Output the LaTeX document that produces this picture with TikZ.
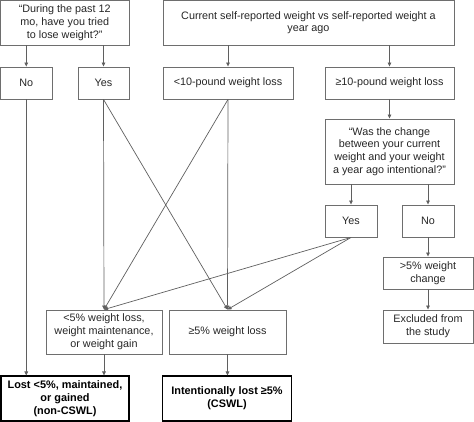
\documentclass[tikz,border=0pt]{standalone}
\usepackage{fontspec}
\setmainfont{Liberation Sans}
\usetikzlibrary{arrows.meta}
\definecolor{boxgray}{RGB}{110,110,110}
\definecolor{linegray}{RGB}{95,95,95}
\tikzset{
  box/.style={draw=boxgray, line width=0.9pt, align=center, inner sep=1pt,
    font=\fontsize{10.8}{12.8}\selectfont, text=black!85},
  boldbox/.style={draw=black, line width=1.6pt, align=center, inner sep=1pt,
    font=\fontsize{10.9}{12.7}\selectfont\bfseries, text=black},
  arr/.style={draw=linegray, line width=0.7pt, -{Triangle[length=4pt,width=3.6pt]}},
}
\begin{document}
\begin{tikzpicture}[x=1pt,y=-1pt]
\useasboundingbox (0,0) rectangle (474,422);
\node[box, minimum width=128.5pt, minimum height=44.5pt] (q1) at (64.75,22.75) {“During the past 12\\mo, have you tried\\to lose weight?”};
\node[box, minimum width=51.5pt, minimum height=32pt] (no) at (26.25,83) {No};
\node[box, minimum width=51pt, minimum height=32pt] (yes) at (103.5,83) {Yes};
\node[box, minimum width=291pt, minimum height=44.5pt] (top) at (308.5,22.75) {Current self-reported weight vs self-reported weight a\\year ago};
\node[box, minimum width=130pt, minimum height=32pt] (lt10) at (228,83) {<10-pound weight loss};
\node[box, minimum width=129pt, minimum height=32pt] (ge10) at (389.5,83) {≥10-pound weight loss};
\node[box, minimum width=129pt, minimum height=65pt] (q2) at (389.5,151.5) {“Was the change\\between your current\\weight and your weight\\a year ago intentional?”};
\node[box, minimum width=52pt, minimum height=32pt] (yes2) at (351,221) {Yes};
\node[box, minimum width=52pt, minimum height=32pt] (no2) at (428,221) {No};
\node[box, minimum width=90pt, minimum height=32pt] (gt5) at (428,273) {>5\% weight\\change};
\node[box, minimum width=90pt, minimum height=33pt] (excl) at (428,326.5) {Excluded from\\the study};
\node[box, minimum width=116pt, minimum height=44pt] (lt5) at (104,332) {<5\% weight loss,\\weight maintenance,\\or weight gain};
\node[box, minimum width=117pt, minimum height=44pt] (ge5) at (227.5,332) {≥5\% weight loss};
\node[boldbox, minimum width=128pt, minimum height=44.5pt] (lost) at (65,398.5) {Lost <5\%, maintained,\\or gained\\(non-CSWL)};
\node[boldbox, minimum width=129pt, minimum height=44.5pt] (intl) at (227,398.5) {Intentionally lost ≥5\%\\(CSWL)};
\draw[arr] (no.north |- q1.south) -- (no.north);
\draw[arr] (yes.north |- q1.south) -- (yes.north);
\draw[arr] (lt10.north |- top.south) -- (lt10.north);
\draw[arr] (ge10.north |- top.south) -- (ge10.north);
\draw[arr] (ge10) -- (q2);
\draw[arr] (yes2.north |- q2.south) -- (yes2.north);
\draw[arr] (no2.north |- q2.south) -- (no2.north);
\draw[arr] (no2) -- (gt5);
\draw[arr] (gt5) -- (excl);
\draw[arr] (no.south) -- (no.south |- lost.north);
\draw[arr] (yes.south) -- (lt5.north);
\draw[arr] (yes.south) -- (ge5.north);
\draw[arr] (lt10.south) -- (lt5.north);
\draw[arr] (lt10.south) -- (ge5.north);
\draw[arr] (yes2.south) -- (lt5.north);
\draw[arr] (yes2.south) -- (ge5.north);
\draw[arr] (lt5.south) -- (lt5.south |- lost.north);
\draw[arr] (ge5.south) -- (ge5.south |- intl.north);
\end{tikzpicture}
\end{document}
